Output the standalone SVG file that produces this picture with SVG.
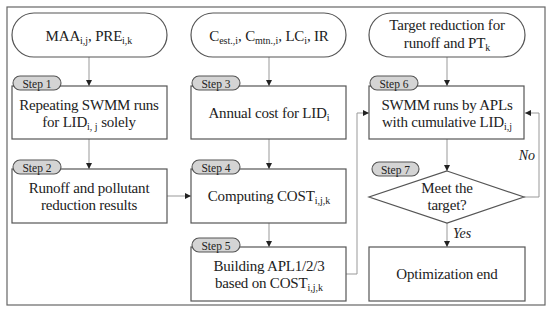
<svg xmlns="http://www.w3.org/2000/svg" width="550" height="311" viewBox="0 0 550 311">
<style>
.box{fill:#fff;stroke:#555;stroke-width:1.2}
.tag{fill:#d4d4d4;stroke:#555;stroke-width:1.1}
text{font-family:'Liberation Serif','Tinos','Times New Roman','DejaVu Serif','Noto Serif',serif}
.t{font-size:15px;letter-spacing:-0.2px;fill:#222;text-anchor:middle}
.tg{font-size:11.5px;fill:#222;text-anchor:middle}
.s{font-size:10px;letter-spacing:0}
.it{font-size:14px;font-style:italic;fill:#222}
.c{fill:none;stroke:#999;stroke-width:1}
</style>
<defs>
<marker id="ah" markerUnits="userSpaceOnUse" markerWidth="7" markerHeight="6" refX="6" refY="3" orient="auto">
<path d="M0,0 L6,3 L0,6 z" fill="#222"/>
</marker>
</defs>
<rect x="7" y="7" width="538" height="298" fill="#fff" stroke="#666" stroke-width="1.2"/>
<g id="connectors">
<path class="c" d="M89,57 V86" marker-end="url(#ah)"/>
<path class="c" d="M89,139 V169" marker-end="url(#ah)"/>
<path class="c" d="M269,57 V86" marker-end="url(#ah)"/>
<path class="c" d="M269,139 V169" marker-end="url(#ah)"/>
<path class="c" d="M269,223 V247" marker-end="url(#ah)"/>
<path class="c" d="M167,196 H191" marker-end="url(#ah)"/>
<path class="c" d="M346,274 H357 V113 H369" marker-end="url(#ah)"/>
<path class="c" d="M447,57 V86" marker-end="url(#ah)"/>
<path class="c" d="M447,139 V171" marker-end="url(#ah)"/>
<path class="c" d="M524,197 H539 V113 H525" marker-end="url(#ah)"/>
<path class="c" d="M447,223 V247" marker-end="url(#ah)"/>
<text class="it" x="535" y="160" text-anchor="end">No</text>
<text class="it" x="453" y="238">Yes</text>
</g>
<g id="in1">
<rect class="box" x="12" y="13" width="155" height="44" rx="22"/>
<text class="t" x="89" y="41">MAA<tspan class="s" dy="3">i,j</tspan><tspan dy="-3">, PRE</tspan><tspan class="s" dy="3">i,k</tspan></text>
</g>
<g id="in2">
<rect class="box" x="191" y="13" width="155" height="44" rx="22"/>
<text class="t" x="269" y="41">C<tspan class="s" dy="3">est.,i</tspan><tspan dy="-3">, C</tspan><tspan class="s" dy="3">mtn.,i</tspan><tspan dy="-3">, LC</tspan><tspan class="s" dy="3">i</tspan><tspan dy="-3">, IR</tspan></text>
</g>
<g id="in3">
<rect class="box" x="369" y="13" width="156" height="44" rx="22"/>
<text class="t" x="447" y="30">Target reduction for</text>
<text class="t" x="447" y="48">runoff and PT<tspan class="s" dy="3">k</tspan></text>
</g>
<g id="step1">
<rect class="box" x="12" y="86" width="155" height="53"/>
<rect class="tag" x="13" y="76" width="48" height="14" rx="7"/>
<text class="tg" x="37" y="87.5">Step 1</text>
<text class="t" x="89" y="110">Repeating SWMM runs</text>
<text class="t" x="89" y="127">for LID<tspan class="s" dy="3">i, j</tspan><tspan dy="-3"> solely</tspan></text>
</g>
<g id="step2">
<rect class="box" x="12" y="169" width="155" height="54"/>
<rect class="tag" x="13" y="160" width="48" height="14" rx="7"/>
<text class="tg" x="37" y="171.5">Step 2</text>
<text class="t" x="89" y="193">Runoff and pollutant</text>
<text class="t" x="89" y="210">reduction results</text>
</g>
<g id="step3">
<rect class="box" x="191" y="86" width="155" height="53"/>
<rect class="tag" x="192" y="76" width="48" height="14" rx="7"/>
<text class="tg" x="216" y="87.5">Step 3</text>
<text class="t" x="269" y="118">Annual cost for LID<tspan class="s" dy="3">i</tspan></text>
</g>
<g id="step4">
<rect class="box" x="191" y="169" width="155" height="54"/>
<rect class="tag" x="192" y="160" width="48" height="14" rx="7"/>
<text class="tg" x="216" y="171.5">Step 4</text>
<text class="t" x="269" y="201">Computing COST<tspan class="s" dy="3">i,j,k</tspan></text>
</g>
<g id="step5">
<rect class="box" x="191" y="247" width="155" height="54"/>
<rect class="tag" x="192" y="238" width="48" height="14" rx="7"/>
<text class="tg" x="216" y="249.5">Step 5</text>
<text class="t" x="269" y="271">Building APL1/2/3</text>
<text class="t" x="269" y="288">based on COST<tspan class="s" dy="3">i,j,k</tspan></text>
</g>
<g id="step6">
<rect class="box" x="369" y="86" width="155" height="53"/>
<rect class="tag" x="370" y="76" width="48" height="14" rx="7"/>
<text class="tg" x="394" y="87.5">Step 6</text>
<text class="t" x="447" y="110">SWMM runs by APLs</text>
<text class="t" x="447" y="127">with cumulative LID<tspan class="s" dy="3">i,j</tspan></text>
</g>
<g id="step7">
<polygon class="box" points="447,171 524,197 447,223 369,197"/>
<rect class="tag" x="372" y="162" width="47" height="14" rx="7"/>
<text class="tg" x="395.5" y="173.5">Step 7</text>
<text class="t" x="447" y="193">Meet the</text>
<text class="t" x="447" y="210">target?</text>
</g>
<g id="end">
<rect class="box" x="369" y="247" width="156" height="54"/>
<text class="t" x="447" y="279">Optimization end</text>
</g>
</svg>
